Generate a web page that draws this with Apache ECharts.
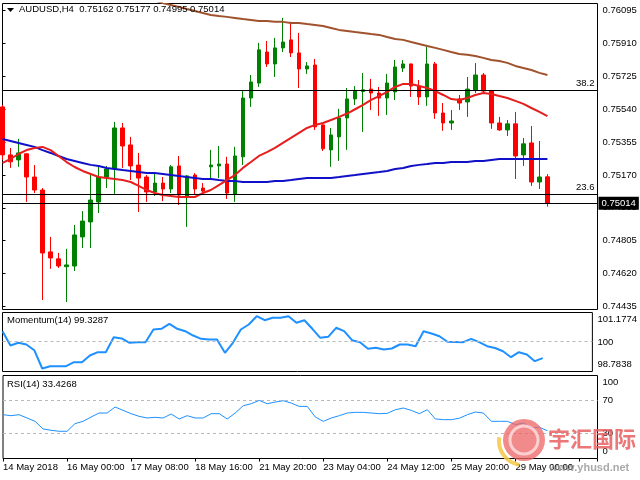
<!DOCTYPE html>
<html><head><meta charset="utf-8">
<script src="https://cdn.jsdelivr.net/npm/echarts@6/dist/echarts.min.js"></script>
<style>html,body{margin:0;padding:0;background:#fff}#c{width:640px;height:480px}</style>
</head><body><div id="c"></div>
<script>
const symbolName = 'AUDUSD,H4';
const timeLabels = ['14 May 2018','16 May 00:00','17 May 08:00','18 May 16:00','21 May 20:00','23 May 04:00','24 May 12:00','25 May 20:00','29 May 00:00'];
const priceLabels = ['0.74435','0.74620','0.74805','0.74985','0.75170','0.75355','0.75540','0.75725','0.75910','0.76095'];

const open = [0.75554,0.75285,0.75257,0.75291,0.75161,0.75088,0.74741,0.74702,0.74658,0.74662,
0.74825,0.74909,0.75021,0.75161,0.75206,0.75436,0.75341,0.75228,0.75161,0.75077,
0.75127,0.75094,0.75223,0.75049,0.75172,0.75099,0.75218,0.75223,0.75234,0.75066,
0.75274,0.75604,0.75688,0.75862,0.75795,0.75885,0.75930,0.75857,0.75767,0.75789,
0.75453,0.75313,0.75386,0.75492,0.75599,0.75640,0.75654,0.75632,0.75604,0.75638,
0.75772,0.75795,0.75671,0.75610,0.75795,0.75520,0.75464,0.75599,0.75582,0.75649,
0.75733,0.75643,0.75464,0.75425,0.75459,0.75285,0.75352,0.75133,0.75162];
const high = [0.75565,0.75324,0.75375,0.75295,0.75228,0.75099,0.74825,0.74735,0.74758,0.74892,
0.74970,0.75172,0.75218,0.75223,0.75470,0.75464,0.75386,0.75296,0.75172,0.75178,
0.75161,0.75228,0.75279,0.75172,0.75183,0.75127,0.75313,0.75335,0.75274,0.75330,
0.75643,0.75733,0.75913,0.75924,0.75941,0.76053,0.76031,0.75969,0.75806,0.75823,
0.75457,0.75436,0.75543,0.75660,0.75671,0.75744,0.75711,0.75666,0.75739,0.75817,
0.75817,0.75797,0.75705,0.75890,0.75806,0.75576,0.75537,0.75621,0.75722,0.75800,
0.75744,0.75646,0.75498,0.75481,0.75526,0.75380,0.75447,0.75363,0.75177];
const low = [0.75257,0.75212,0.75218,0.75021,0.75071,0.74471,0.74646,0.74651,0.74460,0.74634,
0.74763,0.74763,0.74959,0.75099,0.75066,0.75212,0.75144,0.74965,0.75021,0.75055,
0.75026,0.75071,0.75004,0.74881,0.75060,0.75071,0.75155,0.75155,0.75038,0.75021,
0.75228,0.75554,0.75666,0.75778,0.75722,0.75862,0.75834,0.75660,0.75739,0.75425,
0.75307,0.75218,0.75251,0.75313,0.75565,0.75414,0.75537,0.75504,0.75509,0.75593,
0.75750,0.75610,0.75565,0.75560,0.75487,0.75420,0.75425,0.75537,0.75498,0.75632,
0.75632,0.75431,0.75420,0.75391,0.75150,0.75223,0.75111,0.75094,0.74995];
const close = [0.75285,0.75246,0.75296,0.75161,0.75088,0.74735,0.74707,0.74662,0.74668,0.74836,
0.74914,0.75032,0.75161,0.75206,0.75436,0.75335,0.75223,0.75155,0.75077,0.75127,
0.75094,0.75218,0.75060,0.75167,0.75094,0.75082,0.75228,0.75234,0.75071,0.75279,
0.75604,0.75694,0.75874,0.75795,0.75885,0.75918,0.75857,0.75767,0.75784,0.75442,
0.75319,0.75397,0.75492,0.75599,0.75643,0.75650,0.75632,0.75604,0.75688,0.75778,
0.75795,0.75671,0.75610,0.75795,0.75520,0.75464,0.75475,0.75576,0.75654,0.75733,
0.75643,0.75464,0.75425,0.75459,0.75279,0.75347,0.75133,0.75161,0.75014];

const maRed = [0.75240,0.75262,0.75290,0.75312,0.75324,0.75330,0.75312,0.75279,0.75245,0.75217,
0.75195,0.75178,0.75161,0.75156,0.75150,0.75144,0.75133,0.75111,0.75088,0.75071,
0.75060,0.75055,0.75049,0.75049,0.75049,0.75071,0.75088,0.75116,0.75144,0.75172,
0.75212,0.75245,0.75279,0.75301,0.75324,0.75352,0.75380,0.75408,0.75436,0.75453,
0.75464,0.75481,0.75498,0.75517,0.75541,0.75565,0.75593,0.75615,0.75638,0.75666,
0.75683,0.75683,0.75671,0.75660,0.75643,0.75621,0.75598,0.75593,0.75604,0.75621,
0.75632,0.75627,0.75615,0.75604,0.75588,0.75571,0.75548,0.75526,0.75503];
const maBlue = [0.75374,0.75363,0.75352,0.75341,0.75330,0.75312,0.75296,0.75279,0.75262,0.75251,
0.75240,0.75229,0.75223,0.75212,0.75206,0.75200,0.75195,0.75189,0.75184,0.75184,
0.75178,0.75172,0.75167,0.75161,0.75156,0.75150,0.75150,0.75144,0.75139,0.75139,
0.75133,0.75133,0.75133,0.75133,0.75139,0.75139,0.75144,0.75150,0.75156,0.75156,
0.75156,0.75156,0.75161,0.75167,0.75172,0.75178,0.75184,0.75189,0.75195,0.75206,
0.75212,0.75223,0.75229,0.75234,0.75240,0.75240,0.75245,0.75245,0.75245,0.75251,
0.75251,0.75257,0.75262,0.75262,0.75262,0.75262,0.75262,0.75262,0.75262];
const maBrown = [null,null,null,null,null,null,null,null,null,null,
null,null,null,null,null,null,null,null,0.76170,0.76150,
0.76137,0.76126,0.76115,0.76103,0.76092,0.76081,0.76070,0.76064,0.76059,0.76053,
0.76047,0.76042,0.76036,0.76036,0.76031,0.76031,0.76025,0.76025,0.76019,0.76014,
0.76008,0.75997,0.75986,0.75980,0.75974,0.75969,0.75963,0.75958,0.75946,0.75935,
0.75930,0.75918,0.75907,0.75896,0.75885,0.75874,0.75862,0.75851,0.75846,0.75840,
0.75829,0.75817,0.75812,0.75801,0.75784,0.75772,0.75761,0.75745,0.75733];

const momentum = [100.419,99.839,99.948,99.879,99.648,98.906,98.999,98.999,98.999,99.161,
99.161,99.433,99.567,99.567,100.175,100.123,99.948,99.973,99.973,100.488,
100.516,100.719,100.516,100.419,100.244,100.110,100.082,100.082,99.542,99.948,
100.488,100.690,101.027,100.865,100.962,100.962,101.027,100.759,100.865,100.516,
100.151,100.192,100.557,100.419,100.054,99.973,99.705,99.745,99.676,99.717,
99.879,99.879,99.810,100.419,100.325,100.216,99.989,99.981,99.973,100.110,
99.973,99.810,99.737,99.607,99.364,99.567,99.473,99.202,99.3287];
const rsi = [52.8,51.6,52.8,48.8,44.8,35.6,34,32.8,32.8,42,
44.8,50,54.8,54.8,62,58,54,50.8,48.8,49.6,
48.8,53.6,47.6,51.6,48.8,48.8,54,54,47.6,54.8,
63.6,66,70,66,68,69.6,66.8,62.8,62.8,50,
44.8,48.8,51.6,54.8,55.6,55.6,54.8,54,54.4,58.8,
60.8,58,54,58.8,47.6,46.8,46.8,48.5,52.8,56,
54.8,44.8,44.8,44.8,40.8,42.8,36.8,37.6,33.4268];

const fibo382 = 0.75649, fibo236 = 0.75066;
const momBounds = [98.7838, 101.1774], momMid = 100;
const rsiLevels = [70, 30];

const FONT = 'Liberation Sans, Arial, sans-serif';
const XMAX = 74.25;
const n = close.length;
const lastClose = close[n-1];
const candleData = open.map((o,i)=>[i,o,close[i],low[i],high[i]]);
const pts = arr => arr.map((v,i)=>[i,v]);

const chart = echarts.init(document.getElementById('c'), null, {renderer:'canvas'});
const hiddenX = (g)=>({gridIndex:g,type:'value',min:0,max:XMAX,show:false});
const lvlLabel = (t)=>({show:true,formatter:t,position:'insideEndTop',color:'#000',fontSize:9.5,fontFamily:FONT,distance:[3,2]});
const option = {
  animation:false,
  backgroundColor:'#fff',
  textStyle:{fontFamily:FONT},
  grid:[
    {left:2.5,right:42.5,top:3.5,height:306,show:true,borderColor:'#000',borderWidth:1,backgroundColor:'#fff'},
    {left:2.5,right:42.5,top:10.5,height:296,show:false},
    {left:2.5,right:42.5,top:312.5,height:59,show:true,borderColor:'#000',borderWidth:1,backgroundColor:'#fff'},
    {left:2.5,right:42.5,top:375.5,height:83,show:true,borderColor:'#000',borderWidth:1,backgroundColor:'#fff'}
  ],
  xAxis:[
    hiddenX(0),
    {gridIndex:1,type:'value',min:0,max:1,show:false},
    hiddenX(2),
    {gridIndex:3,type:'value',min:0,max:XMAX,interval:8,position:'bottom',
     axisLine:{show:false},splitLine:{show:false},
     axisTick:{show:true,length:3,lineStyle:{color:'#000'}},
     axisLabel:{show:true,align:'left',margin:4,fontSize:9.5,color:'#000',fontFamily:FONT,
       formatter:function(v){const k=Math.round(v/8);return (Math.abs(v-k*8)<1e-6&&k<timeLabels.length)?timeLabels[k]:'';}}}
  ],
  yAxis:[
    {gridIndex:0,type:'value',min:0.74418,max:0.76134,position:'right',show:false,splitLine:{show:false}},
    {gridIndex:1,type:'category',data:priceLabels,boundaryGap:false,position:'right',
     axisLine:{show:false},splitLine:{show:false},
     axisTick:{show:true,length:3,lineStyle:{color:'#000'}},
     axisLabel:{margin:5,fontSize:9.5,color:'#000',fontFamily:FONT}},
    {gridIndex:2,type:'value',min:momBounds[0],max:momBounds[1],interval:(momBounds[1]-momBounds[0])/2,position:'right',
     axisLine:{show:false},splitLine:{show:false},axisTick:{show:false},
     axisLabel:{margin:5,fontSize:9.5,color:'#000',fontFamily:FONT,
       formatter:function(v,i){if(i===0)return '{b|'+momBounds[0]+'}';if(i===1)return String(momMid);if(i===2)return '{t|'+momBounds[1]+'}';return '';},
       rich:{t:{padding:[14,0,0,0],fontSize:9.5,color:'#000',fontFamily:FONT},b:{padding:[0,0,14,0],fontSize:9.5,color:'#000',fontFamily:FONT}}}},
    {gridIndex:3,type:'value',min:0,max:100,interval:10,position:'right',
     axisLine:{show:false},splitLine:{show:false},axisTick:{show:false},
     axisLabel:{margin:5,fontSize:9.5,color:'#000',fontFamily:FONT,
       formatter:function(v){if(v===100)return '{t|100}';if(v===70||v===30)return String(v);if(v===0)return '{b|0}';return '';},
       rich:{t:{padding:[14,0,0,0],fontSize:9.5,color:'#000',fontFamily:FONT},b:{padding:[0,0,14,0],fontSize:9.5,color:'#000',fontFamily:FONT}}}}
  ],
  series:[
    {type:'candlestick',xAxisIndex:0,yAxisIndex:0,data:candleData,encode:{x:0,y:[1,2,3,4]},
     barWidth:4,
     itemStyle:{color:'#008000',color0:'#ff0000',borderColor:'#008000',borderColor0:'#ff0000',borderWidth:1}},
    {type:'line',xAxisIndex:0,yAxisIndex:0,data:pts(maBrown),showSymbol:false,lineStyle:{color:'#A0522D',width:2}},
    {type:'line',xAxisIndex:0,yAxisIndex:0,data:pts(maBlue),showSymbol:false,lineStyle:{color:'#1010C8',width:2}},
    {type:'line',xAxisIndex:0,yAxisIndex:0,data:pts(maRed),showSymbol:false,lineStyle:{color:'#E61E1E',width:2},
     markLine:{silent:true,symbol:['none','none'],animation:false,precision:5,
       lineStyle:{color:'#000',width:1,type:'solid'},
       data:[
         {yAxis:fibo382,label:lvlLabel('38.2')},
         {yAxis:fibo236,label:lvlLabel('23.6')},
         {yAxis:lastClose,label:{show:true,formatter:lastClose.toFixed(5),position:'end',color:'#fff',backgroundColor:'#000',padding:[2,3,1,3],fontSize:9.5,fontFamily:FONT,distance:1}}
       ]}},
    {type:'line',xAxisIndex:2,yAxisIndex:2,data:pts(momentum),showSymbol:false,lineStyle:{color:'#1E90FF',width:2},
     markLine:{silent:true,symbol:['none','none'],precision:4,label:{show:false},lineStyle:{color:'#b8b8b8',width:1,type:[3,3]},data:[{yAxis:momMid}]}},
    {type:'line',xAxisIndex:3,yAxisIndex:3,data:pts(rsi),showSymbol:false,lineStyle:{color:'#1E90FF',width:1},
     markLine:{silent:true,symbol:['none','none'],precision:4,label:{show:false},lineStyle:{color:'#b8b8b8',width:1,type:[3,3]},data:rsiLevels.map(v=>({yAxis:v}))}}
  ],
  graphic:[
    {type:'polygon',shape:{points:[[7,8],[14,8],[10.5,12]]},style:{fill:'#000'},z:100},
    {type:'text',x:19,y:4,z:100,style:{text:symbolName+'  '+[open[n-1],high[n-1],low[n-1],close[n-1]].map(v=>v.toFixed(5)).join(' '),font:'9.5px '+FONT,fill:'#000'}},
    {type:'text',x:7,y:315,z:100,style:{text:'Momentum(14) '+momentum[n-1].toFixed(4),font:'9.5px '+FONT,fill:'#000'}},
    {type:'text',x:7,y:379,z:100,style:{text:'RSI(14) '+rsi[n-1].toFixed(4),font:'9.5px '+FONT,fill:'#000'}},
    {type:'arc',shape:{cx:523,cy:441,r:24,startAngle:Math.PI*0.55,endAngle:Math.PI*1.05},style:{stroke:'rgba(245,200,70,0.85)',lineWidth:4,fill:null},z:90},
    {type:'circle',shape:{cx:524,cy:440,r:21},style:{fill:'rgba(236,100,100,0.75)'},z:90},
    {type:'circle',shape:{cx:524,cy:440,r:14},style:{fill:null,stroke:'rgba(255,225,225,0.8)',lineWidth:3},z:91},
    {type:'text',x:548,y:428,z:90,style:{text:'宇汇国际',font:'bold 22px "Noto Sans CJK SC"',fill:'rgba(232,96,96,0.85)'}},
    {type:'text',x:549,y:462,z:90,style:{text:'www.yhusd.net',font:'bold 11px '+FONT,fill:'rgba(140,140,140,0.75)'}}
  ]
};
chart.setOption(option);
</script>
</body></html>
